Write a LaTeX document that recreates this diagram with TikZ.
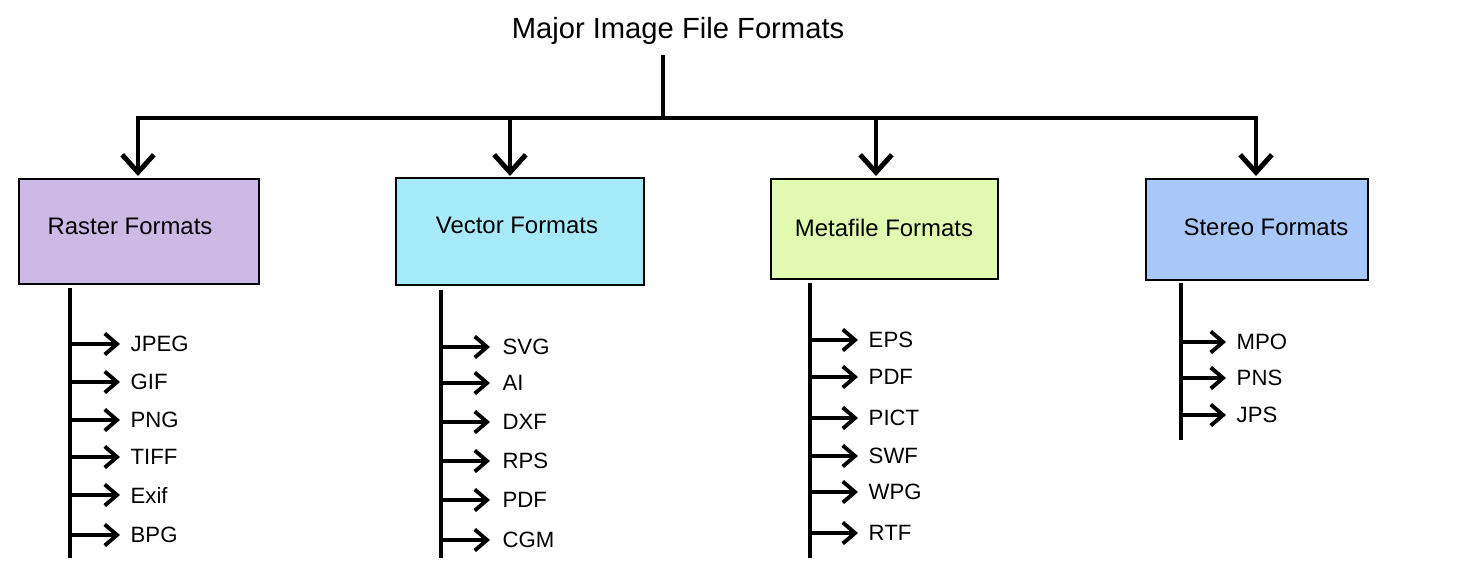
\documentclass[tikz,border=0pt]{standalone}
\usepackage{fontspec}
\setmainfont{Liberation Sans}
\usetikzlibrary{arrows.meta}
\begin{document}
\begin{tikzpicture}[x=0.01cm,y=-0.01cm,
  trunk/.style={line width=1.4pt},
  trunkarrow/.style={line width=1.4pt,-{Straight Barb[length=5pt,width=9pt,line width=1.4pt]}},
  itemarrow/.style={line width=1.1pt,-{Straight Barb[length=3.5pt,width=6pt,line width=1.1pt]}},
  catlabel/.style={font=\fontsize{6.8pt}{8pt}\selectfont},
  catbox/.style={draw,line width=0.7pt},
  item/.style={anchor=west,inner sep=0pt,font=\fontsize{6.3pt}{7.5pt}\selectfont}]
\useasboundingbox (0,0) rectangle (1483,569);
\definecolor{cRas}{HTML}{CDB9E6}
\definecolor{cVec}{HTML}{A6EAF9}
\definecolor{cMet}{HTML}{E0FAB0}
\definecolor{cSte}{HTML}{A8C8FA}
\node (title) at (678,31) {\fontsize{8.3pt}{10pt}\selectfont Major Image File Formats};
\coordinate (t0) at (663,55);
\coordinate (t1) at (663,118);
\draw[trunk] (t0) -- (t1);
\coordinate (hl) at (138,118);
\coordinate (hr) at (1256,118);
\draw[trunk] (hl) -- (hr);
% boxes
\path[catbox,fill=cRas] (19,179) rectangle (259,284);
\node[catlabel] (rasl) at (130,226) {Raster Formats};
\path[catbox,fill=cVec] (396,178) rectangle (644,285);
\node[catlabel] (vecl) at (517,225) {Vector Formats};
\path[catbox,fill=cMet] (771,179) rectangle (998,279);
\node[catlabel] (metl) at (884,228) {Metafile Formats};
\path[catbox,fill=cSte] (1146,179) rectangle (1368,280);
\node[catlabel] (stel) at (1266,227) {Stereo Formats};
\foreach \x/\n in {138/a,510/b,876/c,1256/d}{
  \coordinate (s\n) at (\x,116);
  \coordinate (e\n) at (\x,176);
  \draw[trunkarrow] (s\n) -- (e\n);
}
% branches
\foreach \bx/\ys/\ye/\ax/\lx/\items in {
  70/288/558/120/130/{344/JPEG,382/GIF,420/PNG,457/TIFF,495/Exif,535/BPG},
  441/290/558/490/502/{347/SVG,383/AI,422/DXF,461/RPS,500/PDF,540/CGM},
  810/283/558/858/868/{340/EPS,377/PDF,418/PICT,456/SWF,492/WPG,533/RTF},
  1181/283/440/1226/1236/{342/MPO,378/PNS,415/JPS}}{
  \coordinate (bt) at (\bx,\ys);
  \coordinate (bb) at (\bx,\ye);
  \draw[trunk] (bt) -- (bb);
  \foreach \y/\t in \items {
    \coordinate (p) at (\bx,\y);
    \node[item] (n) at (\lx,\y) {\t};
    \draw[itemarrow] (p) -- (\ax,\y);
  }
}
\end{tikzpicture}
\end{document}
